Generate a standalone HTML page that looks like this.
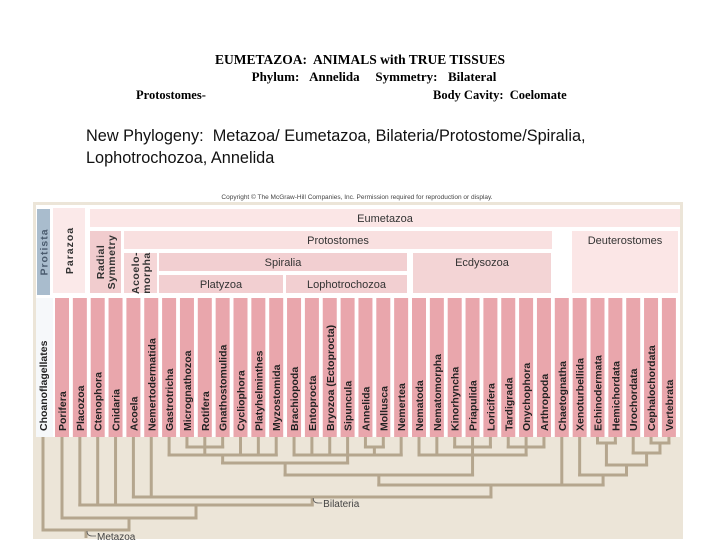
<!DOCTYPE html>
<html><head><meta charset="utf-8"><style>
body{margin:0;background:#fff;width:720px;height:540px;overflow:hidden}
svg{display:block}
text{white-space:pre}
.t{font-family:"Liberation Serif",serif;font-weight:bold;font-size:12.5px;fill:#000}
.h{font-family:"Liberation Sans",sans-serif;font-size:11px;fill:#333}
.hb{font-family:"Liberation Sans",sans-serif;font-size:10.5px;font-weight:bold;fill:#333}
.lab{font-family:"Liberation Sans",sans-serif;font-size:10.5px;font-weight:bold;fill:#222}
</style></head><body>
<svg id="chart" width="720" height="540" viewBox="0 0 720 540">
<text class="t" x="360" y="64" text-anchor="middle" style="font-size:13.5px">EUMETAZOA:  ANIMALS with TRUE TISSUES</text>
<text class="t" x="374" y="81" text-anchor="middle" style="font-size:13px;word-spacing:2px">Phylum:  Annelida   Symmetry:  Bilateral</text>
<text class="t" x="136" y="99">Protostomes-</text>
<text class="t" x="433" y="99">Body Cavity:  Coelomate</text>
<text x="86" y="141" style="font-family:'Liberation Sans',sans-serif;font-size:16.3px;fill:#111">New Phylogeny:  Metazoa/ Eumetazoa, Bilateria/Protostome/Spiralia,</text>
<text x="86" y="163" style="font-family:'Liberation Sans',sans-serif;font-size:16.3px;fill:#111">Lophotrochozoa, Annelida</text>
<text x="357" y="199" text-anchor="middle" style="font-family:'Liberation Sans',sans-serif;font-size:6.5px;fill:#444">Copyright © The McGraw-Hill Companies, Inc. Permission required for reproduction or display.</text>

<rect x="33" y="202" width="650" height="337" fill="#ece5d8"/>
<rect x="36" y="205" width="644" height="232" fill="#fff"/>
<g id="headers"></g>
<g id="columns"></g>
<g id="tree"></g>
</svg>
<script>
const taxa=["Choanoflagellates","Porifera","Placozoa","Ctenophora","Cnidaria","Acoela","Nemertodermatida","Gastrotricha","Micrognathozoa","Rotifera","Gnathostomulida","Cycliophora","Platyhelminthes","Myzostomida","Brachiopoda","Entoprocta","Bryozoa (Ectoprocta)","Sipuncula","Annelida","Mollusca","Nemertea","Nematoda","Nematomorpha","Kinorhyncha","Priapulida","Loricifera","Tardigrada","Onychophora","Arthropoda","Chaetognatha","Xenoturbellida","Echinodermata","Hemichordata","Urochordata","Cephalochordata","Vertebrata"];
// tree nodes: children (taxon index or node name), join depth level
const nodeNames=["A","P","B","L","S","K","T","E","Pr","C","U","H","D1","D","X","Bi","Ra","Po","M"];
const nodeChildren=[[8,9,10],[7,"A",11,12,13],[18,19],[14,15,16,17,"B",20],["P","L"],[23,24,25],[26,27,28],[21,22,"K","T"],["S","E"],[34,35],[33,"C"],[31,32],["H","U"],[30,"D1"],["Pr",29,"D"],[5,6,"X"],[2,3,4,"Bi"],[1,"Ra"],[0,"Po"]];
const nodeLevels=[447,455,447,455,463,447,447,455,475,443,453,443,465,475,485,497,505,518,530];
const headers=[
 ["Protista",37,209,13,86,"#a9bccd",1],["Parazoa",53,208,32,85,"#fbe9e9",1],
 ["Eumetazoa",90,209,590,18,"#fbe6e6",0],["Radial Symmetry",90,231,31,62,"#f1ccce",1],
 ["Protostomes",124,231,428,18,"#f9e0e0",0],["Deuterostomes",572,231,106,62,"#fbe6e6",0],
 ["Acoelo- morpha",124,253,33,40,"#f5d6d7",1],["Spiralia",159,253,248,18,"#f2cfd1",0],
 ["Ecdysozoa",413,253,138,40,"#f3d4d5",0],["Platyzoa",159,275,124,18,"#f2cfd1",0],
 ["Lophotrochozoa",286,275,121,18,"#f2cfd1",0]];
const NS="http://www.w3.org/2000/svg";
function mk(t,a,p){const e=document.createElementNS(NS,t);for(const k in a)e.setAttribute(k,a[k]);p.appendChild(e);return e;}
const xOf=i=>i===0?43:62+(i-1)*17.85;
const hg=document.getElementById('headers');
headers.forEach(h=>{
 const r=mk('rect',{x:h[1],y:h[2],width:h[3],height:h[4],fill:h[5]},hg);
 
 
 const cx=h[1]+h[3]/2, cy=h[2]+h[4]/2;
 if(h[6]){
  const words=h[0].split(' ');
  words.forEach((w,k)=>{
   const off=(k-(words.length-1)/2)*11;
   const t=mk('text',{class:'hb',transform:`translate(${cx+off+4},${cy}) rotate(-90)`,'text-anchor':'middle'},hg);
   if(h[0]==="Protista"){t.style.fill='#4a5b6e';}
   t.style.letterSpacing=h[0]==="Protista"||h[0]==="Parazoa"?"1px":"0.5px";
   t.textContent=w;
   
   
  });
 } else {
  const t=mk('text',{class:'h',x:cx,y:h[2]+13,'text-anchor':'middle'},hg);
  t.textContent=h[0];
  
  
 }
});
const cg=document.getElementById('columns');
taxa.forEach((n,i)=>{
 const x=xOf(i);
 const w=i===0?17:14;
 const r=mk('rect',{x:i===0?36:x-7,y:298,width:w,height:139,fill:i===0?'#f6f8fa':'#e9a6ac'},cg);
 
 
 const t=mk('text',{class:'lab',transform:`translate(${x+4},431) rotate(-90)`},cg);
 t.textContent=n;
 
 
});
const tg=document.getElementById('tree');
const nodeX={},nodeY={};
function pos(c){ if(typeof c==='number') return [xOf(c),437]; return [nodeX[c],nodeY[c]]; }
nodeNames.forEach((nm,k)=>{
 const ch=nodeChildren[k], y=nodeLevels[k];
 const ps=ch.map(pos);
 const xs=ps.map(p=>p[0]);
 const x1=Math.min(...xs),x2=Math.max(...xs);
 nodeX[nm]=(x1+x2)/2; nodeY[nm]=y;
 ps.forEach(p=>{
  const l=mk('line',{x1:p[0],y1:p[1],x2:p[0],y2:y+1.5,stroke:'#b5a68e','stroke-width':3},tg);
  
  
 });
 const hl=mk('line',{x1:x1-1.5,y1:y,x2:x2+1.5,y2:y,stroke:'#b5a68e','stroke-width':3},tg);
 
 
});
const root=mk('line',{x1:nodeX.M,y1:530,x2:nodeX.M,y2:538,stroke:'#b5a68e','stroke-width':3},tg);


[["Bilateria","Bi"],["Metazoa","M"]].forEach(([lab,nm])=>{
 const x=nodeX[nm]+1,y=nodeY[nm]+1;
 const p=mk('path',{d:`M${x} ${y} q0 5 5 5 h4`,fill:'none',stroke:'#555','stroke-width':0.8},tg);
 
 
 const t=mk('text',{x:x+10,y:y+9,style:"font-family:'Liberation Sans',sans-serif;font-size:10px;fill:#444"},tg);
 t.textContent=lab;
 
 
});
</script>
</body></html>
